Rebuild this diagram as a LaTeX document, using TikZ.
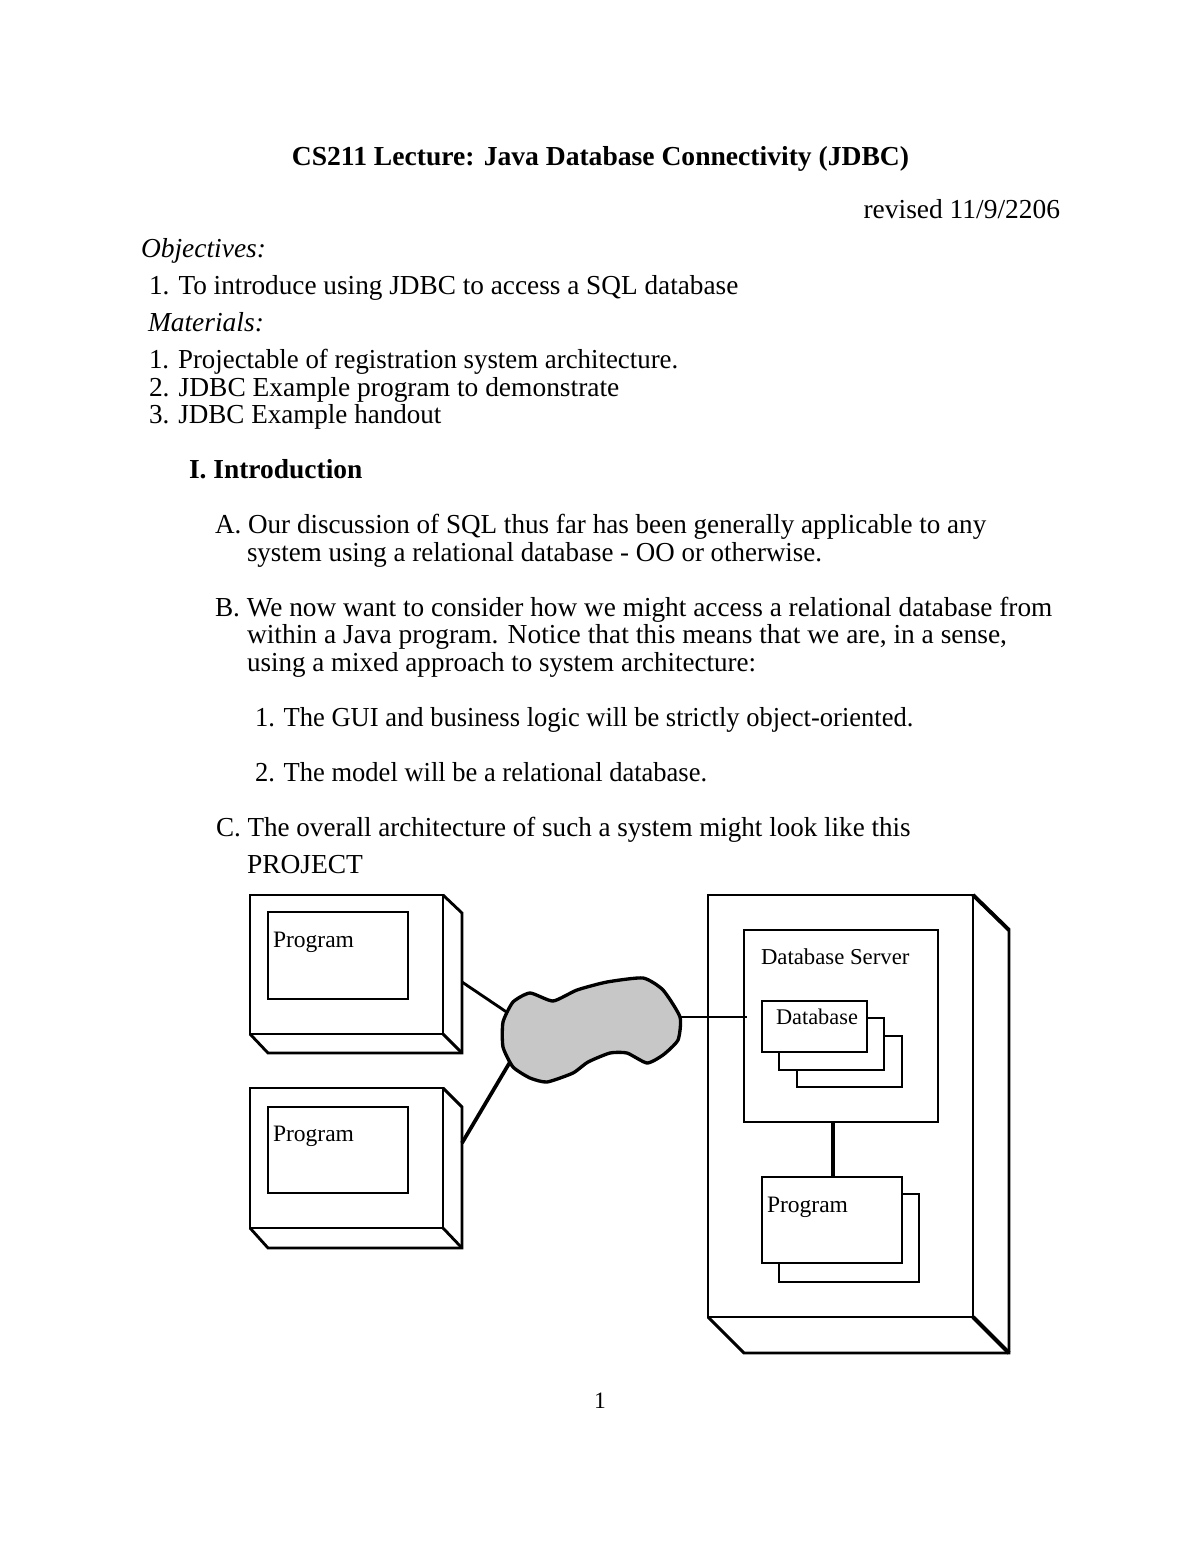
\documentclass[tikz,border=0pt]{standalone}
\usepackage{fontspec}
\setmainfont{Liberation Serif}
\usetikzlibrary{positioning}
\tikzset{
  x=0.51pt,y=-0.51pt,
  ln/.style={draw=black,line width=1.45pt,line join=miter},
  conn/.style={draw=black,line width=1.45pt},
  txt/.style={anchor=base west,inner sep=0pt,outer sep=0pt,font=\fontsize{14}{16}\selectfont,text=black},
  ttl/.style={txt,font=\fontsize{14}{16}\selectfont\bfseries},
  lbl/.style={txt,font=\fontsize{12}{14}\selectfont},
  box/.style={ln,fill=white,rectangle,anchor=north west,inner sep=0pt,outer sep=0pt},
}
\newcommand{\bx}[6][]{\node[box,#1,minimum width={(#5-#3)*0.51pt},minimum height={(#6-#4)*0.51pt}] (#2) at (#3,#4) {};}
\newcommand{\sq}[2]{\scalebox{#1}[1]{#2}}
\begin{document}
\begin{tikzpicture}
\useasboundingbox[fill=white] (0,0) rectangle (1200,1553);
% text
\node[ttl,anchor=base] (title) at (600.5,166) {\sq{1.005}{CS211 Lecture: Java Database Connectivity (JDBC)}};
\node[txt,anchor=base east] (rev) at (1060,219) {revised 11/9/2206};
\node[txt] (obj) at (141,257) {\itshape Objectives:};
\node[txt] (o1) at (149,294) {\sq{0.993}{1. To introduce using JDBC to access a SQL database}};
\node[txt] (mat) at (148,331) {\itshape Materials:};
\node[txt] (m1) at (149,368) {\sq{0.978}{1. Projectable of registration system architecture.}};
\node[txt] (m2) at (149,396) {2. JDBC Example program to demonstrate};
\node[txt] (m3) at (149,423) {\sq{0.986}{3. JDBC Example handout}};
\node[ttl] (intro) at (189,478) {I. Introduction};
\node[txt] (a1) at (215,533) {\sq{0.987}{A. Our discussion of SQL thus far has been generally applicable to any}};
\node[txt] (a2) at (247,561) {\sq{0.981}{system using a relational database - OO or otherwise.}};
\node[txt] (b1) at (215,616) {\sq{0.994}{B. We now want to consider how we might access a relational database from}};
\node[txt] (b2) at (247,643) {within a Java program.  Notice that this means that we are, in a sense,};
\node[txt] (b3) at (247,671) {\sq{0.985}{using a mixed approach to system architecture:}};
\node[txt] (n1) at (255,726) {\sq{0.966}{1. The GUI and business logic will be strictly object-oriented.}};
\node[txt] (n2) at (255,781) {\sq{0.966}{2. The model will be a relational database.}};
\node[txt] (c1) at (216,836) {\sq{0.986}{C. The overall architecture of such a system might look like this}};
\node[txt] (proj) at (247,873) {PROJECT};
\node[lbl,anchor=base] (pg) at (600,1408) {1};
% left boxes
\bx{pc1}{250}{895}{443}{1034}
\draw[ln] (443,895) -- (462,913) -- (462,1053) -- (268,1053) -- (250,1034);
\draw[ln] (443,1034) -- (462,1053);
\bx{p1}{268}{912}{408}{999}
\node[lbl] at (273,947) {Program};
\bx{pc2}{250}{1088}{443}{1228}
\draw[ln] (443,1088) -- (462,1107) -- (462,1248) -- (268,1248) -- (250,1228);
\draw[ln] (443,1228) -- (462,1248);
\bx{p2}{268}{1107}{408}{1193}
\node[lbl] at (273,1141) {Program};
% right box
\bx{srv}{708}{895}{973}{1317}
\draw[ln] (973,895) -- (1009,930) -- (1009,1353) -- (744,1353) -- (708,1317);
\draw[ln,line width=2pt] (973,895) -- (1009,930);
\draw[ln,line width=2pt] (973,1317) -- (1009,1353);
\bx{dbs}{744}{930}{938}{1122}
\node[lbl,font=\fontsize{11.6}{14}\selectfont] at (761,964) {Database Server};
\bx{d3}{797}{1036}{902}{1087}
\bx{d2}{779}{1018}{884}{1070}
\bx{d1}{762}{1001}{867}{1052}
\node[lbl,font=\fontsize{11.4}{14}\selectfont] at (776,1024) {Database};
\bx{pb}{779}{1194}{919}{1282}
\bx{pf}{762}{1177}{902}{1263}
\node[lbl] at (767,1212) {Program};
% cloud
\draw[ln,fill=black!22,line width=1.7pt] plot[smooth cycle,tension=0.35] coordinates {
(503,1022)(513,1002)(530,993)(553,1001)(577,990)(607,982)(643,978)(663,990)(680,1017)(678,1040)(663,1055)(647,1063)(627,1053)(610,1053)(588,1062)(573,1073)(547,1082)(530,1078)(513,1067)(503,1047)};
\coordinate (ca) at (508,1013);
\coordinate (cb) at (510,1062);
\coordinate (cc) at (680,1017);
\coordinate (e1) at (462,982);
\coordinate (e2) at (462,1143);
\coordinate (e3) at (747,1017);
\draw[conn] (e1) -- (ca);
\draw[conn,line width=1.9pt] (e2) -- (cb);
\draw[conn,line width=1.2pt] (cc) -- (e3);
\draw[conn,line width=1.7pt] ([xshift=0.5pt]dbs.south -| pf.north) -- ([xshift=0.5pt]pf.north);
\end{tikzpicture}
\end{document}
